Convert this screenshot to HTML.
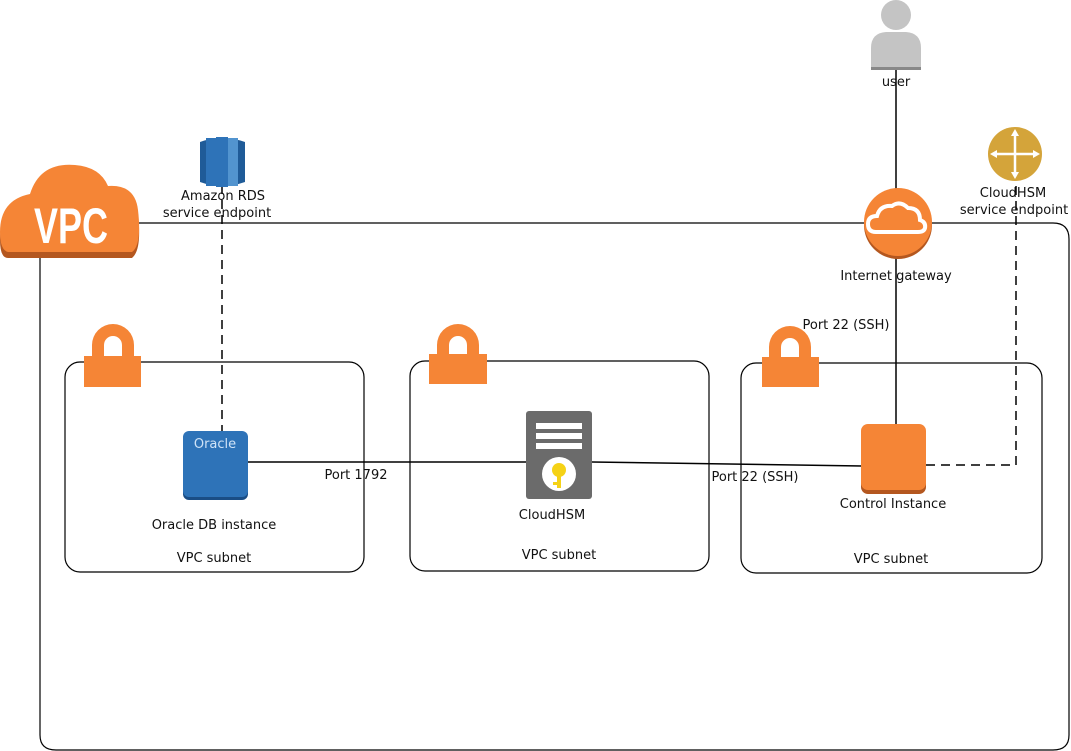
<!DOCTYPE html>
<html><head><meta charset="utf-8"><style>
html,body{margin:0;padding:0;background:#fff;}
svg{display:block;}
text{font-family:"DejaVu Sans","Liberation Sans",sans-serif;font-size:13px;fill:#111;}
</style></head><body>
<svg width="1071" height="751" viewBox="0 0 1071 751" xmlns="http://www.w3.org/2000/svg">
<path d="M40 223 H1053 Q1069 223 1069 239 V735 Q1069 750 1053 750 H56 Q40 750 40 735 Z" fill="none" stroke="#000" stroke-width="1.2"/>
<rect x="65" y="362" width="299" height="210" rx="15" fill="none" stroke="#000" stroke-width="1.2"/>
<rect x="410" y="361" width="299" height="210" rx="15" fill="none" stroke="#000" stroke-width="1.2"/>
<rect x="741" y="363" width="301" height="210" rx="15" fill="none" stroke="#000" stroke-width="1.2"/>
<g fill="#f58536">
<path d="M92 358 V345 A21 21 0 0 1 134 345 V358 H122 V345 A9 9 0 0 0 104 345 V358 Z"/>
<rect x="84" y="356" width="57" height="31"/>
<path d="M437 355 V345 A21 21 0 0 1 479 345 V355 H467 V345 A9 9 0 0 0 449 345 V355 Z"/>
<rect x="429" y="354" width="58" height="30"/>
<path d="M769 358 V347 A21 21 0 0 1 811 347 V358 H799 V347 A9 9 0 0 0 781 347 V358 Z"/>
<rect x="762" y="357" width="57" height="30"/>
</g>
<g>
<path d="M8 258 Q0 258 0 240 Q0 205 30 198 Q40 165 75 168 Q100 170 108 190 Q135 188 138 215 Q142 250 132 258 Z" fill="#b4571f"/>
<path d="M8 252 Q0 250 0 232 Q0 200 30 194 Q40 162 75 165 Q100 167 108 186 Q135 184 138 210 Q142 245 132 252 Z" fill="#f58536"/>
<text x="34" y="243" textLength="74" lengthAdjust="spacingAndGlyphs" style="font-family:'Liberation Sans Narrow','Liberation Sans',sans-serif;font-size:50px;font-weight:bold;fill:#fff">VPC</text>
</g>
<line x1="222" y1="185" x2="222" y2="431" stroke="#000" stroke-width="1.5" stroke-dasharray="9,6"/>
<line x1="248" y1="462" x2="526" y2="462" stroke="#000" stroke-width="1.5"/>
<line x1="592" y1="462" x2="862" y2="466" stroke="#000" stroke-width="1.5"/>
<polyline points="926,465 1016,465 1016,180" fill="none" stroke="#000" stroke-width="1.5" stroke-dasharray="9,6"/>
<line x1="896" y1="66" x2="896" y2="190" stroke="#000" stroke-width="1.5"/>
<line x1="896" y1="255" x2="896" y2="425" stroke="#000" stroke-width="1.5"/>
<g>
<path d="M200 142 Q222 134 245 142 V182 Q222 190 200 182 Z" fill="#1f5b98"/>
<rect x="206" y="138" width="10" height="48" fill="#2e73b8"/>
<rect x="216" y="137" width="12" height="50" fill="#2e73b8"/>
<rect x="228" y="138" width="10" height="48" fill="#5294cf"/>
</g>
<text x="223" y="200" text-anchor="middle">Amazon RDS</text>
<text x="217" y="217" text-anchor="middle">service endpoint</text>
<rect x="183" y="433" width="65" height="67" rx="6" fill="#1a4d85"/>
<rect x="183" y="431" width="65" height="66" rx="6" fill="#2e73b8"/>
<text x="215" y="448" text-anchor="middle" style="fill:#cfe3f7;font-size:13px">Oracle</text>
<text x="214" y="529" text-anchor="middle">Oracle DB instance</text>
<text x="214" y="562" text-anchor="middle">VPC subnet</text>
<text x="356" y="479" text-anchor="middle">Port 1792</text>
<rect x="526" y="411" width="66" height="88" rx="3" fill="#6b6b6b"/>
<rect x="536" y="423" width="46" height="6" fill="#fff"/>
<rect x="536" y="433" width="46" height="6" fill="#fff"/>
<rect x="536" y="443" width="46" height="6" fill="#fff"/>
<circle cx="559" cy="474" r="17" fill="#fff"/>
<circle cx="559" cy="470" r="7" fill="#f5d216"/>
<rect x="557" y="472" width="4" height="16" fill="#f5d216"/>
<rect x="553" y="482" width="5" height="3" fill="#f5d216"/>
<text x="552" y="519" text-anchor="middle">CloudHSM</text>
<text x="559" y="559" text-anchor="middle">VPC subnet</text>
<text x="755" y="481" text-anchor="middle">Port 22 (SSH)</text>
<rect x="861" y="428" width="65" height="66" rx="7" fill="#b4571f"/>
<rect x="861" y="424" width="65" height="66" rx="7" fill="#f58536"/>
<text x="893" y="508" text-anchor="middle">Control Instance</text>
<text x="891" y="563" text-anchor="middle">VPC subnet</text>
<circle cx="898" cy="225" r="34" fill="#b4571f"/>
<circle cx="898" cy="222" r="34" fill="#f58536"/>
<path d="M876 232 Q868 232 868 224 Q868 216 877 216 Q880 205 892 206 Q900 200 908 208 Q920 208 920 220 Q926 222 925 228 Q924 232 918 232 Z" fill="none" stroke="#fff" stroke-width="4"/>
<text x="896" y="280" text-anchor="middle">Internet gateway</text>
<text x="846" y="329" text-anchor="middle">Port 22 (SSH)</text>
<g fill="#c4c4c4">
<circle cx="896" cy="15" r="15"/>
<path d="M871 68 V48 Q871 33 886 32 H906 Q921 33 921 48 V68 Z"/>
</g>
<rect x="871" y="67" width="50" height="3" fill="#888"/>
<text x="896" y="86" text-anchor="middle">user</text>
<circle cx="1015" cy="154" r="27" fill="#d4a43a"/>
<g stroke="#fff" stroke-width="2.5">
<line x1="993" y1="154" x2="1037" y2="154"/>
<line x1="1015" y1="132" x2="1015" y2="176"/>
</g>
<g fill="#fff">
<polygon points="990,154 997,150 997,158"/><polygon points="1040,154 1033,150 1033,158"/>
<polygon points="1015,129 1011,136 1019,136"/><polygon points="1015,179 1011,172 1019,172"/>
</g>
<text x="1013" y="197" text-anchor="middle">CloudHSM</text>
<text x="1014" y="214" text-anchor="middle">service endpoint</text>
</svg>
</body></html>
